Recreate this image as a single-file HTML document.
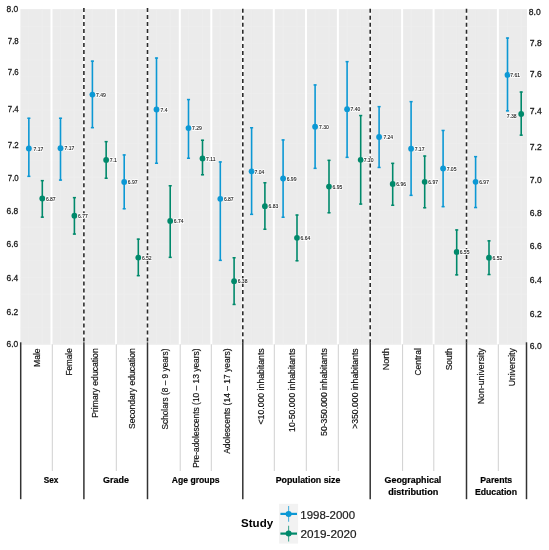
<!DOCTYPE html>
<html><head><meta charset="utf-8"><style>
html,body{margin:0;padding:0;background:#fff;width:549px;height:550px;overflow:hidden}
svg{display:block;will-change:transform}
text{font-family:"Liberation Sans",sans-serif}
</style></head><body>
<svg width="549" height="550" viewBox="0 0 549 550">
<rect x="0" y="0" width="549" height="550" fill="#fff"/>
<rect x="20.4" y="9.1" width="506.60" height="335.60" fill="#EBEBEB"/>
<path d="M20.4 344.40H527.0 M20.4 327.67H527.0 M20.4 310.94H527.0 M20.4 294.21H527.0 M20.4 277.48H527.0 M20.4 260.75H527.0 M20.4 244.02H527.0 M20.4 227.29H527.0 M20.4 210.56H527.0 M20.4 193.83H527.0 M20.4 177.10H527.0 M20.4 160.37H527.0 M20.4 143.64H527.0 M20.4 126.91H527.0 M20.4 110.18H527.0 M20.4 93.45H527.0 M20.4 76.72H527.0 M20.4 59.99H527.0 M20.4 43.26H527.0 M20.4 26.53H527.0 M20.4 9.80H527.0 M28.85 9.1V344.7 M42.3 9.1V344.7 M60.5 9.1V344.7 M74.4 9.1V344.7 M92.4 9.1V344.7 M106.15 9.1V344.7 M124.2 9.1V344.7 M138.3 9.1V344.7 M156.5 9.1V344.7 M170.2 9.1V344.7 M188.5 9.1V344.7 M202.5 9.1V344.7 M220.3 9.1V344.7 M234.1 9.1V344.7 M251.6 9.1V344.7 M264.9 9.1V344.7 M283.1 9.1V344.7 M297.0 9.1V344.7 M315.1 9.1V344.7 M329.0 9.1V344.7 M347.1 9.1V344.7 M360.7 9.1V344.7 M379.1 9.1V344.7 M392.7 9.1V344.7 M411.1 9.1V344.7 M424.7 9.1V344.7 M443.1 9.1V344.7 M456.7 9.1V344.7 M475.6 9.1V344.7 M489.0 9.1V344.7 M507.5 9.1V344.7 M521.2 9.1V344.7" stroke="#EFEFEF" stroke-width="0.5" fill="none"/>
<g stroke="#fff" stroke-width="2.0"><line x1="51.5" y1="9.1" x2="51.5" y2="344.7"/><line x1="83.9" y1="9.1" x2="83.9" y2="344.7"/><line x1="116" y1="9.1" x2="116" y2="344.7"/><line x1="147.5" y1="9.1" x2="147.5" y2="344.7"/><line x1="179.8" y1="9.1" x2="179.8" y2="344.7"/><line x1="211.3" y1="9.1" x2="211.3" y2="344.7"/><line x1="242.8" y1="9.1" x2="242.8" y2="344.7"/><line x1="273.8" y1="9.1" x2="273.8" y2="344.7"/><line x1="306" y1="9.1" x2="306" y2="344.7"/><line x1="337.9" y1="9.1" x2="337.9" y2="344.7"/><line x1="370.2" y1="9.1" x2="370.2" y2="344.7"/><line x1="402.1" y1="9.1" x2="402.1" y2="344.7"/><line x1="433.6" y1="9.1" x2="433.6" y2="344.7"/><line x1="466.5" y1="9.1" x2="466.5" y2="344.7"/><line x1="497.9" y1="9.1" x2="497.9" y2="344.7"/></g>
<g stroke="#2b2b2b" stroke-width="1.6"><line x1="83.9" y1="8.0" x2="83.9" y2="342.5" stroke-dasharray="4 3.01"/><line x1="147.5" y1="8.0" x2="147.5" y2="342.5" stroke-dasharray="4 3.01"/><line x1="242.8" y1="8.7" x2="242.8" y2="342.5" stroke-dasharray="4 3.035"/><line x1="370.2" y1="8.7" x2="370.2" y2="342.5" stroke-dasharray="4 3.035"/><line x1="466.5" y1="8.7" x2="466.5" y2="342.5" stroke-dasharray="4 3.035"/></g>
<g stroke="#333" stroke-width="1.5"><line x1="83.9" y1="342.3" x2="83.9" y2="499.2"/><line x1="147.5" y1="342.3" x2="147.5" y2="499.2"/><line x1="242.8" y1="342.3" x2="242.8" y2="499.2"/><line x1="370.2" y1="342.3" x2="370.2" y2="499.2"/><line x1="466.5" y1="342.3" x2="466.5" y2="499.2"/><line x1="20.7" y1="342.3" x2="20.7" y2="499.2"/><line x1="526.5" y1="342.3" x2="526.5" y2="499.2"/></g>
<g stroke="#D0D0D0" stroke-width="1"><line x1="52.3" y1="344.3" x2="52.3" y2="471"/><line x1="116.3" y1="344.3" x2="116.3" y2="471"/><line x1="180.2" y1="344.3" x2="180.2" y2="471"/><line x1="211.3" y1="344.3" x2="211.3" y2="471"/><line x1="274.3" y1="344.3" x2="274.3" y2="471"/><line x1="306.3" y1="344.3" x2="306.3" y2="471"/><line x1="338.3" y1="344.3" x2="338.3" y2="471"/><line x1="402.6" y1="344.3" x2="402.6" y2="471"/><line x1="433.8" y1="344.3" x2="433.8" y2="471"/><line x1="498.3" y1="344.3" x2="498.3" y2="471"/></g>
<g fill="#0C98D4"><rect x="28.05" y="117.80" width="1.6" height="59.00"/><rect x="27.30" y="117.50" width="3.1" height="1.5"/><rect x="27.30" y="175.60" width="3.1" height="1.5"/><circle cx="28.85" cy="148.40" r="2.9"/></g>
<g fill="#00896B"><rect x="41.50" y="180.20" width="1.6" height="37.40"/><rect x="40.75" y="179.90" width="3.1" height="1.5"/><rect x="40.75" y="216.40" width="3.1" height="1.5"/><circle cx="42.3" cy="198.50" r="2.9"/></g>
<g fill="#0C98D4"><rect x="59.70" y="117.80" width="1.6" height="62.70"/><rect x="58.95" y="117.50" width="3.1" height="1.5"/><rect x="58.95" y="179.30" width="3.1" height="1.5"/><circle cx="60.5" cy="148.20" r="2.9"/></g>
<g fill="#00896B"><rect x="73.60" y="197.20" width="1.6" height="37.30"/><rect x="72.85" y="196.90" width="3.1" height="1.5"/><rect x="72.85" y="233.30" width="3.1" height="1.5"/><circle cx="74.4" cy="215.70" r="2.9"/></g>
<g fill="#0C98D4"><rect x="91.60" y="60.70" width="1.6" height="67.40"/><rect x="90.85" y="60.40" width="3.1" height="1.5"/><rect x="90.85" y="126.90" width="3.1" height="1.5"/><circle cx="92.4" cy="94.60" r="2.9"/></g>
<g fill="#00896B"><rect x="105.35" y="141.20" width="1.6" height="37.50"/><rect x="104.60" y="140.90" width="3.1" height="1.5"/><rect x="104.60" y="177.50" width="3.1" height="1.5"/><circle cx="106.15" cy="159.90" r="2.9"/></g>
<g fill="#0C98D4"><rect x="123.40" y="154.50" width="1.6" height="54.70"/><rect x="122.65" y="154.20" width="3.1" height="1.5"/><rect x="122.65" y="208.00" width="3.1" height="1.5"/><circle cx="124.2" cy="182.00" r="2.9"/></g>
<g fill="#00896B"><rect x="137.50" y="238.70" width="1.6" height="37.40"/><rect x="136.75" y="238.40" width="3.1" height="1.5"/><rect x="136.75" y="274.90" width="3.1" height="1.5"/><circle cx="138.3" cy="257.60" r="2.9"/></g>
<g fill="#0C98D4"><rect x="155.70" y="57.60" width="1.6" height="106.10"/><rect x="154.95" y="57.30" width="3.1" height="1.5"/><rect x="154.95" y="162.50" width="3.1" height="1.5"/><circle cx="156.5" cy="109.50" r="2.9"/></g>
<g fill="#00896B"><rect x="169.40" y="185.30" width="1.6" height="72.50"/><rect x="168.65" y="185.00" width="3.1" height="1.5"/><rect x="168.65" y="256.60" width="3.1" height="1.5"/><circle cx="170.2" cy="220.90" r="2.9"/></g>
<g fill="#0C98D4"><rect x="187.70" y="99.10" width="1.6" height="59.60"/><rect x="186.95" y="98.80" width="3.1" height="1.5"/><rect x="186.95" y="157.50" width="3.1" height="1.5"/><circle cx="188.5" cy="128.10" r="2.9"/></g>
<g fill="#00896B"><rect x="201.70" y="139.80" width="1.6" height="35.40"/><rect x="200.95" y="139.50" width="3.1" height="1.5"/><rect x="200.95" y="174.00" width="3.1" height="1.5"/><circle cx="202.5" cy="158.40" r="2.9"/></g>
<g fill="#0C98D4"><rect x="219.50" y="161.50" width="1.6" height="99.30"/><rect x="218.75" y="161.20" width="3.1" height="1.5"/><rect x="218.75" y="259.60" width="3.1" height="1.5"/><circle cx="220.3" cy="198.80" r="2.9"/></g>
<g fill="#00896B"><rect x="233.30" y="257.30" width="1.6" height="47.60"/><rect x="232.55" y="257.00" width="3.1" height="1.5"/><rect x="232.55" y="303.70" width="3.1" height="1.5"/><circle cx="234.1" cy="281.20" r="2.9"/></g>
<g fill="#0C98D4"><rect x="250.80" y="127.30" width="1.6" height="87.50"/><rect x="250.05" y="127.00" width="3.1" height="1.5"/><rect x="250.05" y="213.60" width="3.1" height="1.5"/><circle cx="251.6" cy="171.30" r="2.9"/></g>
<g fill="#00896B"><rect x="264.10" y="182.30" width="1.6" height="47.40"/><rect x="263.35" y="182.00" width="3.1" height="1.5"/><rect x="263.35" y="228.50" width="3.1" height="1.5"/><circle cx="264.9" cy="206.20" r="2.9"/></g>
<g fill="#0C98D4"><rect x="282.30" y="139.50" width="1.6" height="78.20"/><rect x="281.55" y="139.20" width="3.1" height="1.5"/><rect x="281.55" y="216.50" width="3.1" height="1.5"/><circle cx="283.1" cy="178.50" r="2.9"/></g>
<g fill="#00896B"><rect x="296.20" y="214.60" width="1.6" height="46.60"/><rect x="295.45" y="214.30" width="3.1" height="1.5"/><rect x="295.45" y="260.00" width="3.1" height="1.5"/><circle cx="297.0" cy="237.80" r="2.9"/></g>
<g fill="#0C98D4"><rect x="314.30" y="84.50" width="1.6" height="84.30"/><rect x="313.55" y="84.20" width="3.1" height="1.5"/><rect x="313.55" y="167.60" width="3.1" height="1.5"/><circle cx="315.1" cy="126.70" r="2.9"/></g>
<g fill="#00896B"><rect x="328.20" y="159.90" width="1.6" height="53.30"/><rect x="327.45" y="159.60" width="3.1" height="1.5"/><rect x="327.45" y="212.00" width="3.1" height="1.5"/><circle cx="329.0" cy="186.60" r="2.9"/></g>
<g fill="#0C98D4"><rect x="346.30" y="61.20" width="1.6" height="96.60"/><rect x="345.55" y="60.90" width="3.1" height="1.5"/><rect x="345.55" y="156.60" width="3.1" height="1.5"/><circle cx="347.1" cy="109.20" r="2.9"/></g>
<g fill="#00896B"><rect x="359.90" y="115.10" width="1.6" height="89.40"/><rect x="359.15" y="114.80" width="3.1" height="1.5"/><rect x="359.15" y="203.30" width="3.1" height="1.5"/><circle cx="360.7" cy="159.80" r="2.9"/></g>
<g fill="#0C98D4"><rect x="378.30" y="106.20" width="1.6" height="61.70"/><rect x="377.55" y="105.90" width="3.1" height="1.5"/><rect x="377.55" y="166.70" width="3.1" height="1.5"/><circle cx="379.1" cy="137.00" r="2.9"/></g>
<g fill="#00896B"><rect x="391.90" y="162.90" width="1.6" height="42.80"/><rect x="391.15" y="162.60" width="3.1" height="1.5"/><rect x="391.15" y="204.50" width="3.1" height="1.5"/><circle cx="392.7" cy="183.90" r="2.9"/></g>
<g fill="#0C98D4"><rect x="410.30" y="101.20" width="1.6" height="94.60"/><rect x="409.55" y="100.90" width="3.1" height="1.5"/><rect x="409.55" y="194.60" width="3.1" height="1.5"/><circle cx="411.1" cy="148.70" r="2.9"/></g>
<g fill="#00896B"><rect x="423.90" y="155.60" width="1.6" height="52.60"/><rect x="423.15" y="155.30" width="3.1" height="1.5"/><rect x="423.15" y="207.00" width="3.1" height="1.5"/><circle cx="424.7" cy="181.80" r="2.9"/></g>
<g fill="#0C98D4"><rect x="442.30" y="130.00" width="1.6" height="77.10"/><rect x="441.55" y="129.70" width="3.1" height="1.5"/><rect x="441.55" y="205.90" width="3.1" height="1.5"/><circle cx="443.1" cy="168.40" r="2.9"/></g>
<g fill="#00896B"><rect x="455.90" y="229.50" width="1.6" height="45.80"/><rect x="455.15" y="229.20" width="3.1" height="1.5"/><rect x="455.15" y="274.10" width="3.1" height="1.5"/><circle cx="456.7" cy="251.90" r="2.9"/></g>
<g fill="#0C98D4"><rect x="474.80" y="156.20" width="1.6" height="51.80"/><rect x="474.05" y="155.90" width="3.1" height="1.5"/><rect x="474.05" y="206.80" width="3.1" height="1.5"/><circle cx="475.6" cy="181.80" r="2.9"/></g>
<g fill="#00896B"><rect x="488.20" y="240.40" width="1.6" height="34.60"/><rect x="487.45" y="240.10" width="3.1" height="1.5"/><rect x="487.45" y="273.80" width="3.1" height="1.5"/><circle cx="489.0" cy="257.70" r="2.9"/></g>
<g fill="#0C98D4"><rect x="506.70" y="37.60" width="1.6" height="73.70"/><rect x="505.95" y="37.30" width="3.1" height="1.5"/><rect x="505.95" y="110.10" width="3.1" height="1.5"/><circle cx="507.5" cy="74.90" r="2.9"/></g>
<g fill="#00896B"><rect x="520.40" y="91.60" width="1.6" height="44.00"/><rect x="519.65" y="91.30" width="3.1" height="1.5"/><rect x="519.65" y="134.40" width="3.1" height="1.5"/><circle cx="521.2" cy="114.00" r="2.9"/></g>
<g font-size="5" fill="none" stroke="#fff" stroke-width="1.8" stroke-linejoin="round" opacity="0.85"><text x="33.60" y="150.65">7.17</text><text x="45.90" y="200.75">6.87</text><text x="64.50" y="150.45">7.17</text><text x="78.00" y="217.95">6.77</text><text x="96.10" y="96.85">7.49</text><text x="109.75" y="162.15">7.1</text><text x="127.80" y="184.25">6.97</text><text x="141.90" y="259.85">6.52</text><text x="160.60" y="111.75">7.4</text><text x="173.80" y="223.15">6.74</text><text x="192.10" y="130.35">7.29</text><text x="206.10" y="160.65">7.11</text><text x="223.90" y="201.05">6.87</text><text x="237.70" y="283.45">6.38</text><text x="254.50" y="173.55">7.04</text><text x="268.50" y="208.45">6.83</text><text x="286.70" y="180.75">6.99</text><text x="300.60" y="240.05">6.64</text><text x="319.00" y="128.95">7.30</text><text x="332.60" y="188.85">6.95</text><text x="350.60" y="111.45">7.40</text><text x="363.70" y="162.05">7.10</text><text x="383.40" y="139.25">7.24</text><text x="396.30" y="186.15">6.96</text><text x="414.70" y="150.95">7.17</text><text x="428.30" y="184.05">6.97</text><text x="446.70" y="170.65">7.05</text><text x="459.70" y="254.15">6.55</text><text x="479.20" y="184.05">6.97</text><text x="492.60" y="259.95">6.52</text><text x="510.30" y="77.15">7.61</text><text x="516.6" y="117.90" text-anchor="end">7.38</text></g>
<g font-size="5" fill="#222" stroke="#222" stroke-width="0.1"><text x="33.60" y="150.65">7.17</text><text x="45.90" y="200.75">6.87</text><text x="64.50" y="150.45">7.17</text><text x="78.00" y="217.95">6.77</text><text x="96.10" y="96.85">7.49</text><text x="109.75" y="162.15">7.1</text><text x="127.80" y="184.25">6.97</text><text x="141.90" y="259.85">6.52</text><text x="160.60" y="111.75">7.4</text><text x="173.80" y="223.15">6.74</text><text x="192.10" y="130.35">7.29</text><text x="206.10" y="160.65">7.11</text><text x="223.90" y="201.05">6.87</text><text x="237.70" y="283.45">6.38</text><text x="254.50" y="173.55">7.04</text><text x="268.50" y="208.45">6.83</text><text x="286.70" y="180.75">6.99</text><text x="300.60" y="240.05">6.64</text><text x="319.00" y="128.95">7.30</text><text x="332.60" y="188.85">6.95</text><text x="350.60" y="111.45">7.40</text><text x="363.70" y="162.05">7.10</text><text x="383.40" y="139.25">7.24</text><text x="396.30" y="186.15">6.96</text><text x="414.70" y="150.95">7.17</text><text x="428.30" y="184.05">6.97</text><text x="446.70" y="170.65">7.05</text><text x="459.70" y="254.15">6.55</text><text x="479.20" y="184.05">6.97</text><text x="492.60" y="259.95">6.52</text><text x="510.30" y="77.15">7.61</text><text x="516.6" y="117.90" text-anchor="end">7.38</text></g>
<g font-size="9.2" fill="#1a1a1a" stroke="#1a1a1a" stroke-width="0.3"><text x="18.3" y="12.30" text-anchor="end" textLength="11.7" lengthAdjust="spacingAndGlyphs">8.0</text><text x="18.7" y="43.75" text-anchor="end" textLength="10.9" lengthAdjust="spacingAndGlyphs">7.8</text><text x="18.7" y="75.30" text-anchor="end" textLength="10.9" lengthAdjust="spacingAndGlyphs">7.6</text><text x="18.7" y="111.50" text-anchor="end" textLength="10.9" lengthAdjust="spacingAndGlyphs">7.4</text><text x="18.7" y="147.70" text-anchor="end" textLength="10.9" lengthAdjust="spacingAndGlyphs">7.2</text><text x="18.7" y="180.65" text-anchor="end" textLength="10.9" lengthAdjust="spacingAndGlyphs">7.0</text><text x="18.3" y="214.00" text-anchor="end" textLength="11.7" lengthAdjust="spacingAndGlyphs">6.8</text><text x="18.3" y="247.45" text-anchor="end" textLength="11.7" lengthAdjust="spacingAndGlyphs">6.6</text><text x="18.3" y="280.80" text-anchor="end" textLength="11.7" lengthAdjust="spacingAndGlyphs">6.4</text><text x="18.3" y="314.85" text-anchor="end" textLength="11.7" lengthAdjust="spacingAndGlyphs">6.2</text><text x="18.3" y="347.40" text-anchor="end" textLength="11.7" lengthAdjust="spacingAndGlyphs">6.0</text><text x="528.8" y="14.50" textLength="11.9" lengthAdjust="spacingAndGlyphs">8.0</text><text x="529.8" y="46.10" textLength="11.9" lengthAdjust="spacingAndGlyphs">7.8</text><text x="529.8" y="77.30" textLength="11.9" lengthAdjust="spacingAndGlyphs">7.6</text><text x="529.8" y="113.80" textLength="11.9" lengthAdjust="spacingAndGlyphs">7.4</text><text x="529.8" y="149.80" textLength="11.9" lengthAdjust="spacingAndGlyphs">7.2</text><text x="529.8" y="182.80" textLength="11.9" lengthAdjust="spacingAndGlyphs">7.0</text><text x="529.8" y="215.50" textLength="11.9" lengthAdjust="spacingAndGlyphs">6.8</text><text x="529.8" y="248.70" textLength="11.9" lengthAdjust="spacingAndGlyphs">6.6</text><text x="529.8" y="282.60" textLength="11.9" lengthAdjust="spacingAndGlyphs">6.4</text><text x="529.8" y="316.90" textLength="11.9" lengthAdjust="spacingAndGlyphs">6.2</text><text x="529.8" y="348.80" textLength="11.9" lengthAdjust="spacingAndGlyphs">6.0</text></g>
<g font-size="8.6" fill="#111" stroke="#111" stroke-width="0.18"><text transform="translate(40.00,348.40) rotate(-90)" x="0" y="0" text-anchor="end" textLength="18.50" lengthAdjust="spacingAndGlyphs">Male</text><text transform="translate(71.50,348.30) rotate(-90)" x="0" y="0" text-anchor="end" textLength="27.20" lengthAdjust="spacingAndGlyphs">Female</text><text transform="translate(97.80,348.30) rotate(-90)" x="0" y="0" text-anchor="end" textLength="69.50" lengthAdjust="spacingAndGlyphs">Primary education</text><text transform="translate(135.20,348.30) rotate(-90)" x="0" y="0" text-anchor="end" textLength="80.80" lengthAdjust="spacingAndGlyphs">Secondary education</text><text transform="translate(167.60,348.50) rotate(-90)" x="0" y="0" text-anchor="end" textLength="81.00" lengthAdjust="spacingAndGlyphs">Scholars (8 – 9 years)</text><text transform="translate(198.60,348.50) rotate(-90)" x="0" y="0" text-anchor="end" textLength="119.30" lengthAdjust="spacingAndGlyphs">Pre-adolescents (10 – 13 years)</text><text transform="translate(230.30,348.50) rotate(-90)" x="0" y="0" text-anchor="end" textLength="105.30" lengthAdjust="spacingAndGlyphs">Adolescents (14 – 17 years)</text><text transform="translate(263.80,348.30) rotate(-90)" x="0" y="0" text-anchor="end" textLength="76.20" lengthAdjust="spacingAndGlyphs">&lt;10.000 inhabitants</text><text transform="translate(294.60,348.30) rotate(-90)" x="0" y="0" text-anchor="end" textLength="83.60" lengthAdjust="spacingAndGlyphs">10-50.000 inhabitants</text><text transform="translate(326.50,348.30) rotate(-90)" x="0" y="0" text-anchor="end" textLength="87.60" lengthAdjust="spacingAndGlyphs">50-350.000 inhabitants</text><text transform="translate(358.00,348.30) rotate(-90)" x="0" y="0" text-anchor="end" textLength="80.50" lengthAdjust="spacingAndGlyphs">&gt;350.000 inhabitants</text><text transform="translate(389.40,348.20) rotate(-90)" x="0" y="0" text-anchor="end" textLength="22.10" lengthAdjust="spacingAndGlyphs">North</text><text transform="translate(420.80,348.20) rotate(-90)" x="0" y="0" text-anchor="end" textLength="27.40" lengthAdjust="spacingAndGlyphs">Central</text><text transform="translate(452.00,348.20) rotate(-90)" x="0" y="0" text-anchor="end" textLength="22.10" lengthAdjust="spacingAndGlyphs">South</text><text transform="translate(483.60,348.20) rotate(-90)" x="0" y="0" text-anchor="end" textLength="56.10" lengthAdjust="spacingAndGlyphs">Non-university</text><text transform="translate(515.00,348.20) rotate(-90)" x="0" y="0" text-anchor="end" textLength="38.00" lengthAdjust="spacingAndGlyphs">University</text></g>
<g font-size="9.5" font-weight="bold" fill="#000" stroke="#000" stroke-width="0.2"><text x="43.70" y="482.70" textLength="14.60" lengthAdjust="spacingAndGlyphs">Sex</text><text x="103.00" y="482.70" textLength="25.90" lengthAdjust="spacingAndGlyphs">Grade</text><text x="171.80" y="482.70" textLength="47.80" lengthAdjust="spacingAndGlyphs">Age groups</text><text x="275.70" y="482.70" textLength="64.70" lengthAdjust="spacingAndGlyphs">Population size</text><text x="384.60" y="483.30" textLength="56.70" lengthAdjust="spacingAndGlyphs">Geographical</text><text x="388.20" y="495.10" textLength="50.10" lengthAdjust="spacingAndGlyphs">distribution</text><text x="480.30" y="483.10" textLength="31.90" lengthAdjust="spacingAndGlyphs">Parents</text><text x="474.90" y="495.30" textLength="42.10" lengthAdjust="spacingAndGlyphs">Education</text></g>
<text x="241.1" y="526.9" font-size="11.5" font-weight="bold" fill="#000" textLength="32" lengthAdjust="spacingAndGlyphs">Study</text>
<rect x="279.1" y="503.8" width="19" height="39.8" fill="#F2F2F2"/>
<line x1="288.6" y1="506.00" x2="288.6" y2="521.80" stroke="#0C98D4" stroke-width="1.1" opacity="0.7"/><line x1="280.4" y1="513.9" x2="297" y2="513.9" stroke="#0C98D4" stroke-width="2.2"/><circle cx="288.6" cy="513.9" r="3" fill="#0C98D4"/>
<line x1="288.6" y1="525.70" x2="288.6" y2="541.50" stroke="#00896B" stroke-width="1.1" opacity="0.7"/><line x1="280.4" y1="533.6" x2="297" y2="533.6" stroke="#00896B" stroke-width="2.2"/><circle cx="288.6" cy="533.6" r="3" fill="#00896B"/>
<text x="300.3" y="519" font-size="11.4" fill="#1a1a1a" stroke="#1a1a1a" stroke-width="0.2" textLength="54.7" lengthAdjust="spacingAndGlyphs">1998-2000</text>
<text x="300.5" y="537.9" font-size="11.4" fill="#1a1a1a" stroke="#1a1a1a" stroke-width="0.2" textLength="56.1" lengthAdjust="spacingAndGlyphs">2019-2020</text>
</svg>
</body></html>
